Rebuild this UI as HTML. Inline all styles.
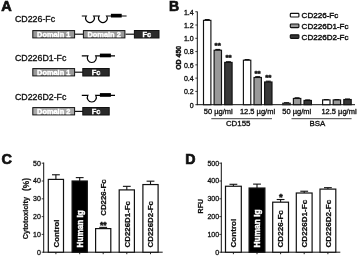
<!DOCTYPE html>
<html><head><meta charset="utf-8"><title>Figure</title>
<style>
html,body{margin:0;padding:0;background:#fff;}
body{width:358px;height:256px;overflow:hidden;}
svg{display:block;}
text{font-family:"Liberation Sans",Arial,sans-serif;fill:#111;}
.b{font-weight:bold;stroke:#111;stroke-width:0.25px;}
.r{stroke:#111;stroke-width:0.33px;}
.s{font-weight:bold;stroke:#111;stroke-width:0.5px;}
.b2{font-weight:bold;stroke:#111;stroke-width:0.4px;}
.r2b{stroke:#111;stroke-width:0.42px;}
.r2{stroke:#111;stroke-width:0.3px;}
.L{font-weight:bold;stroke:#111;stroke-width:0.7px;}
.w{font-weight:bold;fill:#fff;stroke:#fff;stroke-width:0.4px;}
</style></head><body>
<svg width="358" height="256" viewBox="0 0 358 256">
<rect x="0" y="0" width="358" height="256" fill="#fff"/>
<text x="1.2" y="11.4" font-size="14.5" class="L" text-anchor="start">A</text>
<text x="169.0" y="11.3" font-size="14" class="L" text-anchor="start">B</text>
<text x="1.5" y="163.9" font-size="14.5" class="L" text-anchor="start">C</text>
<text x="185.3" y="163.8" font-size="14.2" class="L" text-anchor="start">D</text>
<text x="15" y="22.3" font-size="8.8" class="r" text-anchor="start">CD226-Fc</text>
<path d="M81.8 16.0 H86.31 A4.3 4.3 0 1 0 93.69 16.0 H99.21 A4.3 4.3 0 1 0 106.59 16.0 H126.6" fill="none" stroke="#000" stroke-width="1.2"/>
<rect x="110.9" y="13.8" width="10.799999999999997" height="3.7" fill="#000"/>
<rect x="32.8" y="30.6" width="41.8" height="7.3" fill="#999" stroke="#111" stroke-width="1"/>
<text x="53.699999999999996" y="36.8" font-size="7.4" class="w" text-anchor="middle">Domain 1</text>
<line x1="75" y1="34.2" x2="83" y2="34.2" stroke="#111" stroke-width="1.2"/>
<rect x="83.4" y="30.6" width="41.5" height="7.3" fill="#999" stroke="#111" stroke-width="1"/>
<text x="104.15" y="36.8" font-size="7.4" class="w" text-anchor="middle">Domain 2</text>
<line x1="125.5" y1="34.2" x2="134" y2="34.2" stroke="#111" stroke-width="1.2"/>
<rect x="134.4" y="30.5" width="24.6" height="7.5" fill="#2a2a2a" stroke="#111" stroke-width="1"/>
<text x="146.70000000000002" y="36.9" font-size="7.4" class="w" text-anchor="middle">Fc</text>
<text x="15" y="61.3" font-size="8.8" class="r" text-anchor="start">CD226D1-Fc</text>
<path d="M81.8 55.8 H87.87 A4.5 4.5 0 1 0 95.73 55.8 H115" fill="none" stroke="#000" stroke-width="1.2"/>
<rect x="99.9" y="53.599999999999994" width="11.0" height="3.7" fill="#000"/>
<rect x="32.8" y="68.6" width="41.8" height="7.3" fill="#999" stroke="#111" stroke-width="1"/>
<text x="53.699999999999996" y="74.8" font-size="7.4" class="w" text-anchor="middle">Domain 1</text>
<line x1="75" y1="72.2" x2="83" y2="72.2" stroke="#111" stroke-width="1.2"/>
<rect x="82.8" y="68.5" width="26.4" height="7.5" fill="#2a2a2a" stroke="#111" stroke-width="1"/>
<text x="96.0" y="74.9" font-size="7.4" class="w" text-anchor="middle">Fc</text>
<text x="15" y="100.1" font-size="8.8" class="r" text-anchor="start">CD226D2-Fc</text>
<path d="M81.8 95.3 H87.87 A4.5 4.5 0 1 0 95.73 95.3 H115" fill="none" stroke="#000" stroke-width="1.2"/>
<rect x="99.9" y="93.1" width="11.0" height="3.7" fill="#000"/>
<rect x="32.8" y="107.6" width="41.8" height="7.3" fill="#aaa" stroke="#111" stroke-width="1"/>
<text x="53.699999999999996" y="113.8" font-size="7.4" class="w" text-anchor="middle">Domain 2</text>
<line x1="75" y1="111.4" x2="83" y2="111.4" stroke="#111" stroke-width="1.2"/>
<rect x="82.8" y="107.5" width="26.4" height="7.5" fill="#2a2a2a" stroke="#111" stroke-width="1"/>
<text x="96.0" y="113.9" font-size="7.4" class="w" text-anchor="middle">Fc</text>
<line x1="197.3" y1="11.5" x2="197.3" y2="105.10000000000001" stroke="#111" stroke-width="1.0"/>
<line x1="196.8" y1="104.7" x2="355" y2="104.7" stroke="#111" stroke-width="1.0"/>
<line x1="195.3" y1="104.7" x2="197.3" y2="104.7" stroke="#111" stroke-width="0.8"/>
<text x="193.70000000000002" y="107.60000000000001" font-size="7" class="r" text-anchor="end">0</text>
<line x1="195.3" y1="91.42" x2="197.3" y2="91.42" stroke="#111" stroke-width="0.8"/>
<text x="193.70000000000002" y="94.32000000000001" font-size="7" class="r" text-anchor="end">0.2</text>
<line x1="195.3" y1="78.14" x2="197.3" y2="78.14" stroke="#111" stroke-width="0.8"/>
<text x="193.70000000000002" y="81.04" font-size="7" class="r" text-anchor="end">0.4</text>
<line x1="195.3" y1="64.85999999999999" x2="197.3" y2="64.85999999999999" stroke="#111" stroke-width="0.8"/>
<text x="193.70000000000002" y="67.75999999999999" font-size="7" class="r" text-anchor="end">0.6</text>
<line x1="195.3" y1="51.58" x2="197.3" y2="51.58" stroke="#111" stroke-width="0.8"/>
<text x="193.70000000000002" y="54.48" font-size="7" class="r" text-anchor="end">0.8</text>
<line x1="195.3" y1="38.3" x2="197.3" y2="38.3" stroke="#111" stroke-width="0.8"/>
<text x="193.70000000000002" y="41.199999999999996" font-size="7" class="r" text-anchor="end">1.0</text>
<line x1="195.3" y1="25.019999999999982" x2="197.3" y2="25.019999999999982" stroke="#111" stroke-width="0.8"/>
<text x="193.70000000000002" y="27.91999999999998" font-size="7" class="r" text-anchor="end">1.2</text>
<line x1="195.3" y1="11.73999999999998" x2="197.3" y2="11.73999999999998" stroke="#111" stroke-width="0.8"/>
<text x="193.70000000000002" y="14.639999999999981" font-size="7" class="r" text-anchor="end">1.4</text>
<text transform="translate(181.4,57.8) rotate(-90)" font-size="7" class="b2" text-anchor="middle">OD 450</text>
<rect x="203.50" y="20.37" width="7.4" height="84.33" fill="#fff" stroke="#111" stroke-width="1.15"/>
<line x1="207.2" y1="20.372" x2="207.2" y2="19.5752" stroke="#111" stroke-width="0.9"/>
<line x1="204.7" y1="19.5752" x2="209.70000000000002" y2="19.5752" stroke="#111" stroke-width="1.1"/>
<rect x="214.10" y="50.25" width="7.4" height="54.45" fill="#999" stroke="#111" stroke-width="1.15"/>
<line x1="217.79999999999998" y1="50.252" x2="217.79999999999998" y2="49.455200000000005" stroke="#111" stroke-width="0.9"/>
<line x1="215.29999999999998" y1="49.455200000000005" x2="220.3" y2="49.455200000000005" stroke="#111" stroke-width="1.1"/>
<rect x="224.70" y="62.40" width="7.4" height="42.30" fill="#383838" stroke="#111" stroke-width="1.15"/>
<line x1="228.39999999999998" y1="62.4032" x2="228.39999999999998" y2="61.7392" stroke="#111" stroke-width="0.9"/>
<line x1="225.89999999999998" y1="61.7392" x2="230.9" y2="61.7392" stroke="#111" stroke-width="1.1"/>
<rect x="243.40" y="60.21" width="7.4" height="44.49" fill="#fff" stroke="#111" stroke-width="1.15"/>
<line x1="247.1" y1="60.211999999999996" x2="247.1" y2="59.547999999999995" stroke="#111" stroke-width="0.9"/>
<line x1="244.6" y1="59.547999999999995" x2="249.60000000000002" y2="59.547999999999995" stroke="#111" stroke-width="1.1"/>
<rect x="254.00" y="77.48" width="7.4" height="27.22" fill="#999" stroke="#111" stroke-width="1.15"/>
<line x1="257.7" y1="77.476" x2="257.7" y2="76.6792" stroke="#111" stroke-width="0.9"/>
<line x1="255.2" y1="76.6792" x2="260.2" y2="76.6792" stroke="#111" stroke-width="1.1"/>
<rect x="264.60" y="81.99" width="7.4" height="22.71" fill="#383838" stroke="#111" stroke-width="1.15"/>
<line x1="268.3" y1="81.99119999999999" x2="268.3" y2="81.19439999999999" stroke="#111" stroke-width="0.9"/>
<line x1="265.8" y1="81.19439999999999" x2="270.8" y2="81.19439999999999" stroke="#111" stroke-width="1.1"/>
<rect x="282.80" y="103.24" width="7.4" height="1.46" fill="#fff" stroke="#111" stroke-width="1.15"/>
<line x1="286.5" y1="103.2392" x2="286.5" y2="102.708" stroke="#111" stroke-width="0.9"/>
<line x1="284.0" y1="102.708" x2="289.0" y2="102.708" stroke="#111" stroke-width="1.1"/>
<rect x="293.40" y="98.46" width="7.4" height="6.24" fill="#999" stroke="#111" stroke-width="1.15"/>
<line x1="297.1" y1="98.4584" x2="297.1" y2="97.7944" stroke="#111" stroke-width="0.9"/>
<line x1="294.6" y1="97.7944" x2="299.6" y2="97.7944" stroke="#111" stroke-width="1.1"/>
<rect x="304.00" y="100.45" width="7.4" height="4.25" fill="#383838" stroke="#111" stroke-width="1.15"/>
<line x1="307.7" y1="100.4504" x2="307.7" y2="99.9192" stroke="#111" stroke-width="0.9"/>
<line x1="305.2" y1="99.9192" x2="310.2" y2="99.9192" stroke="#111" stroke-width="1.1"/>
<rect x="322.60" y="99.92" width="7.4" height="4.78" fill="#fff" stroke="#111" stroke-width="1.15"/>
<line x1="326.3" y1="99.9192" x2="326.3" y2="99.52080000000001" stroke="#111" stroke-width="0.9"/>
<line x1="323.8" y1="99.52080000000001" x2="328.8" y2="99.52080000000001" stroke="#111" stroke-width="1.1"/>
<rect x="333.20" y="99.92" width="7.4" height="4.78" fill="#999" stroke="#111" stroke-width="1.15"/>
<line x1="336.90000000000003" y1="99.9192" x2="336.90000000000003" y2="99.52080000000001" stroke="#111" stroke-width="0.9"/>
<line x1="334.40000000000003" y1="99.52080000000001" x2="339.40000000000003" y2="99.52080000000001" stroke="#111" stroke-width="1.1"/>
<rect x="343.80" y="99.52" width="7.4" height="5.18" fill="#383838" stroke="#111" stroke-width="1.15"/>
<line x1="347.5" y1="99.52080000000001" x2="347.5" y2="98.98960000000001" stroke="#111" stroke-width="0.9"/>
<line x1="345.0" y1="98.98960000000001" x2="350.0" y2="98.98960000000001" stroke="#111" stroke-width="1.1"/>
<text x="217.7" y="48.1" font-size="8" class="s" text-anchor="middle">**</text>
<text x="228.5" y="59.9" font-size="8" class="s" text-anchor="middle">**</text>
<text x="257.6" y="75.8" font-size="8" class="s" text-anchor="middle">**</text>
<text x="268.3" y="79.89999999999999" font-size="8" class="s" text-anchor="middle">**</text>
<text x="218.3" y="114.4" font-size="7.5" class="r" text-anchor="middle">50 µg/ml</text>
<text x="257.5" y="114.4" font-size="7.5" class="r" text-anchor="middle">12.5 µg/ml</text>
<text x="296.8" y="114.4" font-size="7.5" class="r" text-anchor="middle">50 µg/ml</text>
<text x="339" y="114.4" font-size="7.5" class="r" text-anchor="middle">12.5 µg/ml</text>
<line x1="211.3" y1="118.7" x2="272" y2="118.7" stroke="#111" stroke-width="0.8"/>
<line x1="291.5" y1="118.7" x2="351.6" y2="118.7" stroke="#111" stroke-width="0.8"/>
<text x="238.2" y="126.4" font-size="7.9" class="r" text-anchor="middle">CD155</text>
<text x="317.3" y="126.4" font-size="7.9" class="r" text-anchor="middle">BSA</text>
<rect x="290.3" y="13.4" width="8.6" height="3.6" rx="0.8" fill="#fff" stroke="#111" stroke-width="1.15"/>
<text x="301.6" y="18.25" font-size="8.05" class="r2b" text-anchor="start">CD226-Fc</text>
<rect x="290.3" y="24.0" width="8.6" height="3.6" rx="0.8" fill="#999" stroke="#111" stroke-width="1.15"/>
<text x="301.6" y="28.849999999999998" font-size="8.05" class="r2b" text-anchor="start">CD226D1-Fc</text>
<rect x="290.3" y="34.800000000000004" width="8.6" height="3.6" rx="0.8" fill="#383838" stroke="#111" stroke-width="1.15"/>
<text x="301.6" y="39.650000000000006" font-size="8.05" class="r2b" text-anchor="start">CD226D2-Fc</text>
<line x1="43.7" y1="162.5" x2="43.7" y2="252.6" stroke="#111" stroke-width="1.0"/>
<line x1="43.2" y1="252.2" x2="162.7" y2="252.2" stroke="#111" stroke-width="1.0"/>
<line x1="41.7" y1="252.2" x2="43.7" y2="252.2" stroke="#111" stroke-width="0.8"/>
<text x="40.800000000000004" y="254.6" font-size="7" class="r2" text-anchor="end">0</text>
<line x1="41.7" y1="234.39999999999998" x2="43.7" y2="234.39999999999998" stroke="#111" stroke-width="0.8"/>
<text x="40.800000000000004" y="236.79999999999998" font-size="7" class="r2" text-anchor="end">10</text>
<line x1="41.7" y1="216.6" x2="43.7" y2="216.6" stroke="#111" stroke-width="0.8"/>
<text x="40.800000000000004" y="219.0" font-size="7" class="r2" text-anchor="end">20</text>
<line x1="41.7" y1="198.79999999999998" x2="43.7" y2="198.79999999999998" stroke="#111" stroke-width="0.8"/>
<text x="40.800000000000004" y="201.2" font-size="7" class="r2" text-anchor="end">30</text>
<line x1="41.7" y1="181.0" x2="43.7" y2="181.0" stroke="#111" stroke-width="0.8"/>
<text x="40.800000000000004" y="183.4" font-size="7" class="r2" text-anchor="end">40</text>
<line x1="41.7" y1="163.2" x2="43.7" y2="163.2" stroke="#111" stroke-width="0.8"/>
<text x="40.800000000000004" y="165.6" font-size="7" class="r2" text-anchor="end">50</text>
<line x1="55.9" y1="179.398" x2="55.9" y2="174.76999999999998" stroke="#111" stroke-width="1.1"/>
<line x1="52.0" y1="174.76999999999998" x2="59.8" y2="174.76999999999998" stroke="#111" stroke-width="1.1"/>
<rect x="48.30" y="179.40" width="15.2" height="72.80" fill="#fff" stroke="#111" stroke-width="1.2"/>
<line x1="55.9" y1="252.2" x2="55.9" y2="254.2" stroke="#111" stroke-width="0.9"/>
<text transform="translate(58.70,247.5) rotate(-90)" font-size="7.9" class="b">Control</text>
<line x1="79.69999999999999" y1="181.0" x2="79.69999999999999" y2="177.618" stroke="#111" stroke-width="1.1"/>
<line x1="75.79999999999998" y1="177.618" x2="83.6" y2="177.618" stroke="#111" stroke-width="1.1"/>
<rect x="72.10" y="181.00" width="15.2" height="71.20" fill="#000" stroke="#111" stroke-width="1.2"/>
<line x1="79.69999999999999" y1="252.2" x2="79.69999999999999" y2="254.2" stroke="#111" stroke-width="0.9"/>
<text transform="translate(82.50,247.5) rotate(-90)" font-size="8.2" class="w">Human Ig</text>
<line x1="103.19999999999999" y1="228.61499999999998" x2="103.19999999999999" y2="227.36899999999997" stroke="#111" stroke-width="1.1"/>
<line x1="99.29999999999998" y1="227.36899999999997" x2="107.1" y2="227.36899999999997" stroke="#111" stroke-width="1.1"/>
<rect x="95.60" y="228.61" width="15.2" height="23.59" fill="#fff" stroke="#111" stroke-width="1.2"/>
<line x1="103.19999999999999" y1="252.2" x2="103.19999999999999" y2="254.2" stroke="#111" stroke-width="0.9"/>
<text transform="translate(106.00,215.8) rotate(-90)" font-size="7.9" class="b">CD226-Fc</text>
<line x1="126.8" y1="189.89999999999998" x2="126.8" y2="186.33999999999997" stroke="#111" stroke-width="1.1"/>
<line x1="122.89999999999999" y1="186.33999999999997" x2="130.7" y2="186.33999999999997" stroke="#111" stroke-width="1.1"/>
<rect x="119.20" y="189.90" width="15.2" height="62.30" fill="#fff" stroke="#111" stroke-width="1.2"/>
<line x1="126.8" y1="252.2" x2="126.8" y2="254.2" stroke="#111" stroke-width="0.9"/>
<text transform="translate(129.60,247.5) rotate(-90)" font-size="7.9" class="b">CD226D1-Fc</text>
<line x1="150.5" y1="184.56" x2="150.5" y2="181.178" stroke="#111" stroke-width="1.1"/>
<line x1="146.6" y1="181.178" x2="154.4" y2="181.178" stroke="#111" stroke-width="1.1"/>
<rect x="142.90" y="184.56" width="15.2" height="67.64" fill="#fff" stroke="#111" stroke-width="1.2"/>
<line x1="150.5" y1="252.2" x2="150.5" y2="254.2" stroke="#111" stroke-width="0.9"/>
<text transform="translate(153.30,247.5) rotate(-90)" font-size="7.9" class="b">CD226D2-Fc</text>
<text x="103.2" y="227.7" font-size="8.5" class="s" text-anchor="middle">**</text>
<text transform="translate(28.4,239.3) rotate(-90)" font-size="7.4" class="b" text-anchor="start">Cytotoxicity</text>
<text transform="translate(28.6,191.0) rotate(-90)" font-size="8.4" class="b" text-anchor="start">(%)</text>
<line x1="221.3" y1="162.5" x2="221.3" y2="252.6" stroke="#111" stroke-width="1.0"/>
<line x1="220.8" y1="252.2" x2="340.3" y2="252.2" stroke="#111" stroke-width="1.0"/>
<line x1="219.3" y1="252.2" x2="221.3" y2="252.2" stroke="#111" stroke-width="0.8"/>
<text x="219.10000000000002" y="254.6" font-size="7" class="r2" text-anchor="end">0</text>
<line x1="219.3" y1="234.39999999999998" x2="221.3" y2="234.39999999999998" stroke="#111" stroke-width="0.8"/>
<text x="219.10000000000002" y="236.79999999999998" font-size="7" class="r2" text-anchor="end">100</text>
<line x1="219.3" y1="216.6" x2="221.3" y2="216.6" stroke="#111" stroke-width="0.8"/>
<text x="219.10000000000002" y="219.0" font-size="7" class="r2" text-anchor="end">200</text>
<line x1="219.3" y1="198.79999999999998" x2="221.3" y2="198.79999999999998" stroke="#111" stroke-width="0.8"/>
<text x="219.10000000000002" y="201.2" font-size="7" class="r2" text-anchor="end">300</text>
<line x1="219.3" y1="181.0" x2="221.3" y2="181.0" stroke="#111" stroke-width="0.8"/>
<text x="219.10000000000002" y="183.4" font-size="7" class="r2" text-anchor="end">400</text>
<line x1="219.3" y1="163.2" x2="221.3" y2="163.2" stroke="#111" stroke-width="0.8"/>
<text x="219.10000000000002" y="165.6" font-size="7" class="r2" text-anchor="end">500</text>
<line x1="233.4" y1="186.25099999999998" x2="233.4" y2="184.29299999999998" stroke="#111" stroke-width="1.1"/>
<line x1="229.5" y1="184.29299999999998" x2="237.3" y2="184.29299999999998" stroke="#111" stroke-width="1.1"/>
<rect x="225.50" y="186.25" width="15.8" height="65.95" fill="#fff" stroke="#111" stroke-width="1.2"/>
<line x1="233.4" y1="252.2" x2="233.4" y2="254.2" stroke="#111" stroke-width="0.9"/>
<text transform="translate(236.20,247.5) rotate(-90)" font-size="8.1" class="b">Control</text>
<line x1="257.0" y1="188.031" x2="257.0" y2="184.115" stroke="#111" stroke-width="1.1"/>
<line x1="253.1" y1="184.115" x2="260.9" y2="184.115" stroke="#111" stroke-width="1.1"/>
<rect x="249.10" y="188.03" width="15.8" height="64.17" fill="#000" stroke="#111" stroke-width="1.2"/>
<line x1="257.0" y1="252.2" x2="257.0" y2="254.2" stroke="#111" stroke-width="0.9"/>
<text transform="translate(259.80,247.5) rotate(-90)" font-size="8.4" class="w">Human Ig</text>
<line x1="280.59999999999997" y1="202.182" x2="280.59999999999997" y2="199.512" stroke="#111" stroke-width="1.1"/>
<line x1="276.7" y1="199.512" x2="284.49999999999994" y2="199.512" stroke="#111" stroke-width="1.1"/>
<rect x="272.70" y="202.18" width="15.8" height="50.02" fill="#fff" stroke="#111" stroke-width="1.2"/>
<line x1="280.59999999999997" y1="252.2" x2="280.59999999999997" y2="254.2" stroke="#111" stroke-width="0.9"/>
<text transform="translate(283.40,247.5) rotate(-90)" font-size="8.1" class="b">CD226-Fc</text>
<line x1="304.2" y1="193.015" x2="304.2" y2="191.23499999999999" stroke="#111" stroke-width="1.1"/>
<line x1="300.3" y1="191.23499999999999" x2="308.09999999999997" y2="191.23499999999999" stroke="#111" stroke-width="1.1"/>
<rect x="296.30" y="193.01" width="15.8" height="59.18" fill="#fff" stroke="#111" stroke-width="1.2"/>
<line x1="304.2" y1="252.2" x2="304.2" y2="254.2" stroke="#111" stroke-width="0.9"/>
<text transform="translate(307.00,247.5) rotate(-90)" font-size="8.1" class="b">CD226D1-Fc</text>
<line x1="327.9" y1="189.099" x2="327.9" y2="187.67499999999998" stroke="#111" stroke-width="1.1"/>
<line x1="324.0" y1="187.67499999999998" x2="331.79999999999995" y2="187.67499999999998" stroke="#111" stroke-width="1.1"/>
<rect x="320.00" y="189.10" width="15.8" height="63.10" fill="#fff" stroke="#111" stroke-width="1.2"/>
<line x1="327.9" y1="252.2" x2="327.9" y2="254.2" stroke="#111" stroke-width="0.9"/>
<text transform="translate(330.70,247.5) rotate(-90)" font-size="8.1" class="b">CD226D2-Fc</text>
<text x="280.8" y="200.4" font-size="9.5" class="s" text-anchor="middle">*</text>
<text transform="translate(202.8,206.2) rotate(-90)" font-size="7" class="b" text-anchor="middle">RFU</text>
</svg>
</body></html>
